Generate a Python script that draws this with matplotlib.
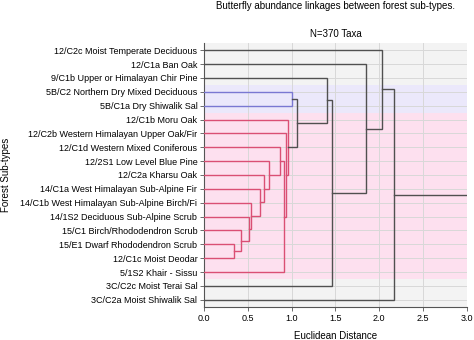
import numpy as np
import matplotlib
matplotlib.use("Agg")
import matplotlib.pyplot as plt

plt.rcParams['font.family'] = ['Liberation Sans', 'DejaVu Sans']

# leaves, top to bottom
labels = [
    "12/C2c Moist Temperate Deciduous",
    "12/C1a Ban Oak",
    "9/C1b Upper or Himalayan Chir Pine",
    "5B/C2 Northern Dry Mixed Deciduous",
    "5B/C1a Dry Shiwalik Sal",
    "12/C1b Moru Oak",
    "12/C2b Western Himalayan Upper Oak/Fir",
    "12/C1d Western Mixed Coniferous",
    "12/2S1 Low Level Blue Pine",
    "12/C2a Kharsu Oak",
    "14/C1a West Himalayan Sub-Alpine Fir",
    "14/C1b West Himalayan Sub-Alpine Birch/Fi",
    "14/1S2 Deciduous Sub-Alpine Scrub",
    "15/C1 Birch/Rhododendron Scrub",
    "15/E1 Dwarf Rhododendron Scrub",
    "12/C1c Moist Deodar",
    "5/1S2 Khair - Sissu",
    "3C/C2c Moist Terai Sal",
    "3C/C2a Moist Shiwalik Sal",
]

# merges: child a, child b, distance, group (nodes >= 19 are earlier merges)
merge_a = [14, 13, 12, 11, 10, 9, 8, 7, 26, 6, 5, 3, 30, 2, 32, 1, 0, 35]
merge_b = [15, 19, 20, 21, 22, 23, 24, 25, 16, 27, 28, 4, 29, 31, 17, 33, 34, 18]
merge_h = [0.336, 0.42, 0.51, 0.53, 0.64, 0.686, 0.74, 0.865, 0.91, 0.934, 0.96,
           0.999, 1.056, 1.40, 1.46, 1.85, 2.03, 2.17]
merge_grp = ['red'] * 11 + ['blue'] + ['grey'] * 6

# shaded bands: (first leaf, last leaf, group)
bands = [(0, 2, 'grey'), (3, 4, 'blue'), (5, 16, 'red'), (17, 18, 'grey')]

line_col = {'red': '#da4f74', 'blue': '#7a78d2', 'grey': '#505050'}
band_col = {'red': '#fde0ef', 'blue': '#ebe8fb', 'grey': '#f3f3f3'}

n = len(labels)
xmax = 3.0

fig = plt.figure(figsize=(4.74, 3.4), dpi=100)
ax = fig.add_axes([0.431, 0.098, 0.5536, 0.7746])

for lo, hi, g in bands:
    ax.axhspan(lo - 0.5, hi + 0.5, color=band_col[g], zorder=0, lw=0)

ax.set_xlim(0, xmax)
ax.set_ylim(n - 0.5, -0.5)
ax.set_xticks(np.arange(0, 3.01, 0.5))
ax.set_xticklabels([f"{v:.1f}" for v in np.arange(0, 3.01, 0.5)])
ax.set_yticks(range(n))
ax.set_yticklabels(labels)
ax.grid(True, color='#d8d8d8', lw=0.7, zorder=1)
ax.set_axisbelow(True)

# node positions
xs = [0.0] * n
ys = list(range(n))
for a, b, h, g in zip(merge_a, merge_b, merge_h, merge_grp):
    c = line_col[g]
    ax.plot([xs[a], h, h, xs[b]], [ys[a], ys[a], ys[b], ys[b]],
            color=c, lw=1.0, zorder=3, solid_joinstyle='miter')
    xs.append(h)
    ys.append((ys[a] + ys[b]) / 2)

# root tail
ax.plot([xs[-1], xmax], [ys[-1], ys[-1]], color=line_col['grey'], lw=1.0, zorder=3)

for s in ['top', 'right']:
    ax.spines[s].set_visible(False)
for s in ['left', 'bottom']:
    ax.spines[s].set_color('#555555')
    ax.spines[s].set_linewidth(0.8)

ax.tick_params(axis='both', labelsize=6.5, length=3, width=0.6, color='#555555', pad=2)
ax.set_xlabel("Euclidean Distance", fontsize=7, labelpad=6)
ax.set_ylabel("Forest Sub-types", fontsize=7)
ax.yaxis.set_label_coords(-0.737, 0.5)

fig.text(0.708, 0.982, "Butterfly abundance linkages between forest sub-types.",
         ha='center', va='center', fontsize=7)
fig.text(0.708, 0.901, "N=370 Taxa", ha='center', va='center', fontsize=7)

fig.savefig("out.png", dpi=100)
